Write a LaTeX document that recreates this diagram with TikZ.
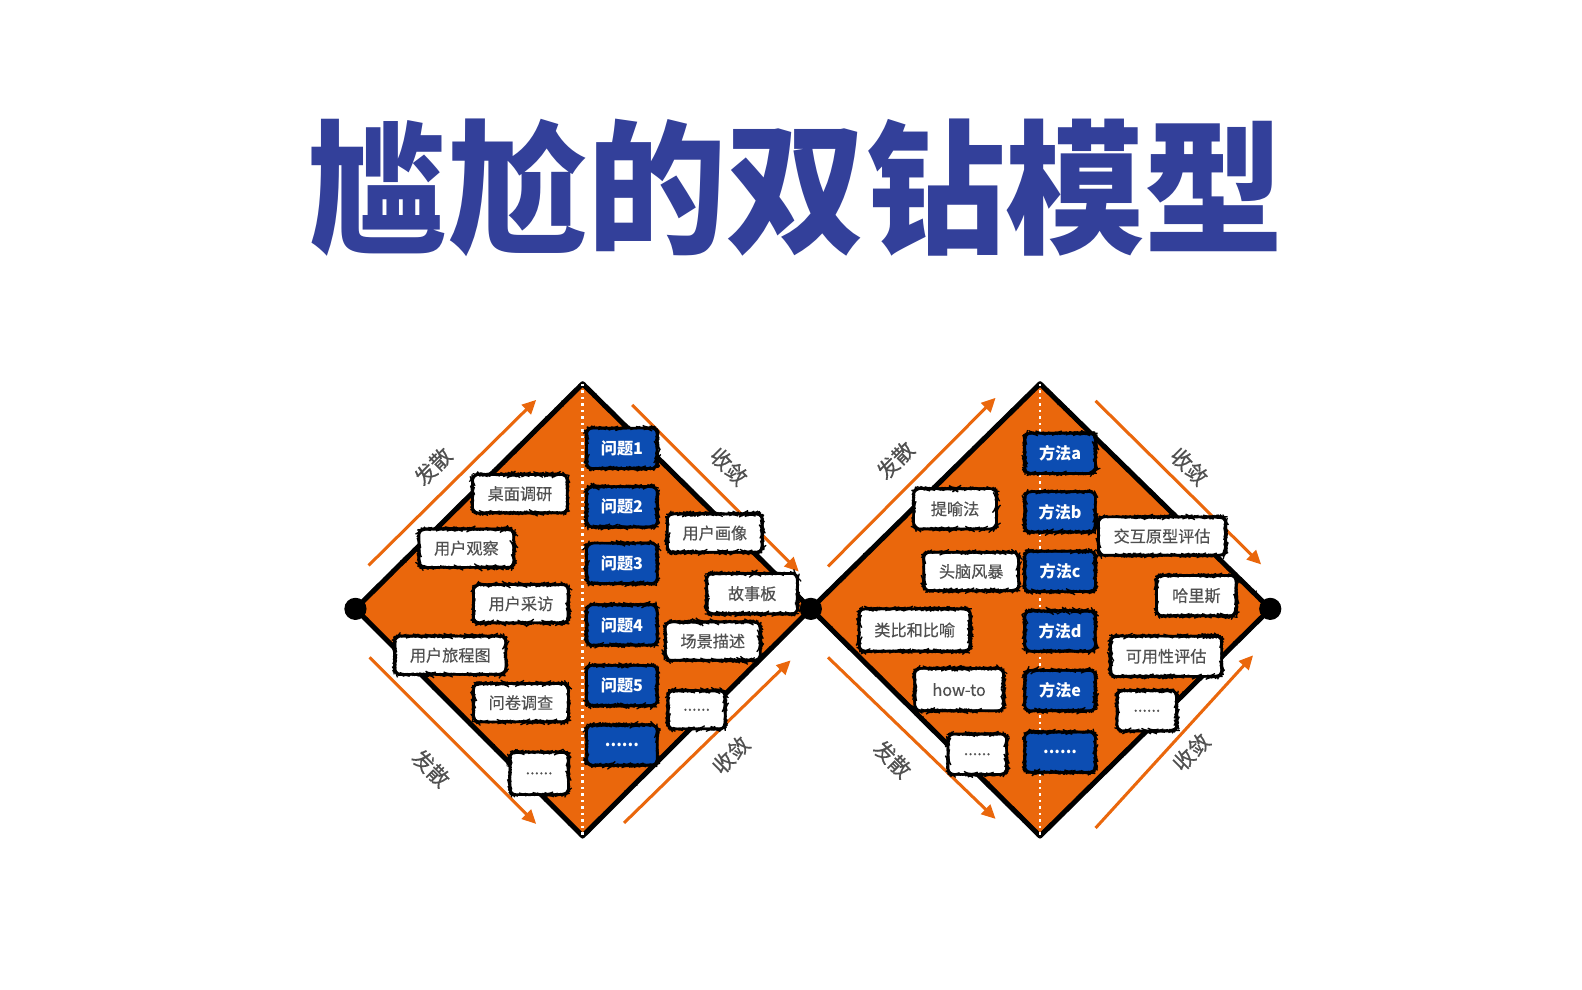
\documentclass[tikz,border=0pt]{standalone}
\usepackage{fontspec}
\newfontfamily\cjk{Noto Sans CJK SC}
\newfontfamily\cjkm{Noto Sans CJK SC}[FakeBold=0.4]
\usetikzlibrary{decorations.pathmorphing,arrows.meta}
\definecolor{titleblue}{HTML}{33409A}
\definecolor{dorange}{HTML}{EA670C}
\definecolor{bblue}{HTML}{0C4DB2}
\definecolor{tgray}{HTML}{505050}
\pgfmathsetseed{7}
\tikzset{
  rough/.style={decorate,decoration={random steps,segment length=1.5pt,amplitude=0.45pt}},
  wbox/.style={draw=black,line width=2.6pt,fill=white,rounded corners=6pt,
    inner xsep=15pt,minimum height=38pt,font=\cjkm\fontsize{16}{16}\selectfont,text=tgray,
    postaction={draw=black,line width=1.2pt,rough}},
  bbox/.style={draw=black,line width=2.6pt,fill=bblue,rounded corners=6pt,
    minimum width=70pt,minimum height=40pt,font=\cjk\bfseries\fontsize{16}{16}\selectfont,text=white,
    postaction={draw=black,line width=1.2pt,rough}},
  diam/.style={draw=black,line width=5pt,fill=dorange,line join=round},
  diamedge/.style={draw=black,line width=2.5pt,decorate,decoration={random steps,segment length=2pt,amplitude=1.2pt}},
  oarrow/.style={draw=dorange,line width=3pt,-{Triangle[length=14pt,width=13pt]}},
  lab/.style={font=\cjkm\fontsize{21}{21}\selectfont,text=tgray},
  vdot/.style={circle,fill=black,minimum size=22pt,inner sep=0pt},
  divline/.style={draw=white,line width=2.5pt,dash pattern=on 2.5pt off 4pt}
}
\begin{document}
\begin{tikzpicture}[x=1pt,y=-1pt]
\fill[white] (0,0) rectangle (1582,989);
\begin{scope}[scale=1.0096,transform shape]
% title
\node[font=\cjk\bfseries\fontsize{143}{150}\selectfont,text=titleblue,xscale=0.965] (title) at (789,186) {尴尬的双钻模型};
% diamond vertices
\coordinate (L1) at (352,603);
\coordinate (T1) at (577,380);
\coordinate (B1) at (577,828);
\coordinate (M) at (803,603);
\coordinate (T2) at (1030,380);
\coordinate (B2) at (1030,828);
\coordinate (R2) at (1258,603);
% diamonds
\path[diam] (L1) -- (T1) -- (M) -- (B1) -- cycle;
\path[diam] (M) -- (T2) -- (R2) -- (B2) -- cycle;
\path[diamedge] (L1) -- (T1) -- (M) -- (B1) -- cycle;
\path[diamedge] (M) -- (T2) -- (R2) -- (B2) -- cycle;
\path[divline] (T1) -- (B1);
\path[divline] (T2) -- (B2);
% vertex dots
\node[vdot] (d1) at (L1) {};
\node[vdot] (d2) at (M) {};
\node[vdot] (d3) at (R2) {};
% arrows left diamond
\coordinate (a1s) at (365,560); \coordinate (a1e) at (531,396);
\coordinate (a2s) at (626,401); \coordinate (a2e) at (791,566);
\coordinate (a3s) at (366,651); \coordinate (a3e) at (531,816);
\coordinate (a4s) at (618,815); \coordinate (a4e) at (783,654);
\path[oarrow] (a1s) -- (a1e);
\path[oarrow] (a2s) -- (a2e);
\path[oarrow] (a3s) -- (a3e);
\path[oarrow] (a4s) -- (a4e);
\node[lab,rotate=45] (l1) at (429,462) {发散};
\node[lab,rotate=-45] (l2) at (722,462) {收敛};
\node[lab,rotate=-45] (l3) at (427,761) {发散};
\node[lab,rotate=45] (l4) at (724,748) {收敛};
% arrows right diamond
\coordinate (b1s) at (820,561); \coordinate (b1e) at (986,394);
\coordinate (b2s) at (1085,397); \coordinate (b2e) at (1249,559);
\coordinate (b3s) at (820,651); \coordinate (b3e) at (986,811);
\coordinate (b4s) at (1085,820); \coordinate (b4e) at (1241,649);
\path[oarrow] (b1s) -- (b1e);
\path[oarrow] (b2s) -- (b2e);
\path[oarrow] (b3s) -- (b3e);
\path[oarrow] (b4s) -- (b4e);
\node[lab,rotate=45] (r1) at (887,456) {发散};
\node[lab,rotate=-45] (r2) at (1178,462) {收敛};
\node[lab,rotate=-45] (r3) at (884,752) {发散};
\node[lab,rotate=45] (r4) at (1180,745) {收敛};
% left blue
\node[bbox] (q1) at (616,444) {问题1};
\node[bbox] (q2) at (616,502) {问题2};
\node[bbox] (q3) at (616,558) {问题3};
\node[bbox] (q4) at (616,619) {问题4};
\node[bbox] (q5) at (616,679) {问题5};
\node[bbox] (q6) at (616,738) {......};
% left white
\node[wbox] (w1) at (515,489) {桌面调研};
\node[wbox] (w2) at (462,543) {用户观察};
\node[wbox] (w3) at (516,598) {用户采访};
\node[wbox] (w4) at (446,649) {用户旅程图};
\node[wbox] (w5) at (516,696) {问卷调查};
\node[wbox,minimum width=58pt,minimum height=42pt] (w6) at (534,766) {......};
\node[wbox] (w7) at (708,528) {用户画像};
\node[wbox,minimum width=90pt,minimum height=40pt] (w8) at (745,588) {故事板};
\node[wbox] (w9) at (706,635) {场景描述};
\node[wbox,minimum width=56pt] (w10) at (690,703) {......};
% right blue
\node[bbox] (m1) at (1050,449) {方法a};
\node[bbox] (m2) at (1050,507) {方法b};
\node[bbox] (m3) at (1050,566) {方法c};
\node[bbox] (m4) at (1050,625) {方法d};
\node[bbox] (m5) at (1050,684) {方法e};
\node[bbox] (m6) at (1050,745) {......};
% right white
\node[wbox,minimum width=82pt,minimum height=40pt] (v1) at (946,504) {提喻法};
\node[wbox] (v2) at (962,566) {头脑风暴};
\node[wbox,minimum height=42pt] (v3) at (906,624) {类比和比喻};
\node[wbox,minimum width=88pt,minimum height=42pt] (v4) at (950,683) {how-to};
\node[wbox,minimum width=58pt,minimum height=40pt] (v5) at (968,747) {......};
\node[wbox] (v6) at (1151,531) {交互原型评估};
\node[wbox,minimum width=79pt,minimum height=40pt] (v7) at (1185,590) {哈里斯};
\node[wbox,minimum height=40pt] (v8) at (1155,650) {可用性评估};
\node[wbox,minimum width=59pt,minimum height=40pt] (v9) at (1136,704) {......};
\end{scope}
\pgfresetboundingbox
\useasboundingbox (0,0) rectangle (1582,989);
\end{tikzpicture}
\end{document}
